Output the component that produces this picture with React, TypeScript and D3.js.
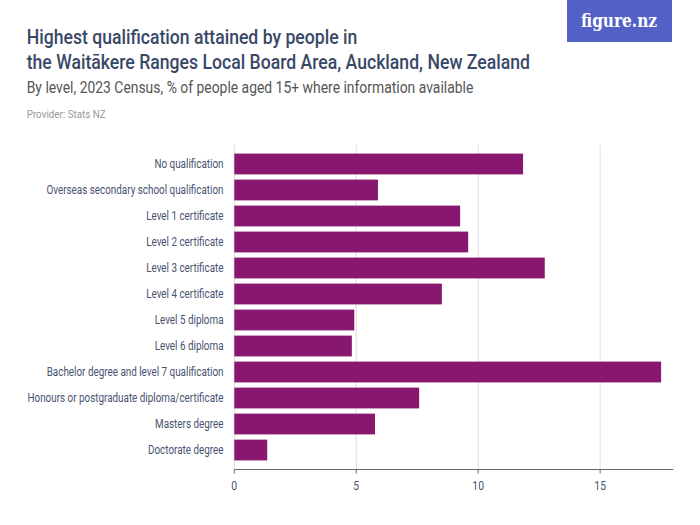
import React from "react";
import * as d3 from "d3";

const categories = [
  "No qualification",
  "Overseas secondary school qualification",
  "Level 1 certificate",
  "Level 2 certificate",
  "Level 3 certificate",
  "Level 4 certificate",
  "Level 5 diploma",
  "Level 6 diploma",
  "Bachelor degree and level 7 qualification",
  "Honours or postgraduate diploma/certificate",
  "Masters degree",
  "Doctorate degree",
];
const values = [11.84, 5.89, 9.26, 9.59, 12.73, 8.51, 4.92, 4.82, 17.5, 7.58, 5.77, 1.35];
const xTicks = [0, 5, 10, 15];

const titleLines = [
  "Highest qualification attained by people in",
  "the Waitākere Ranges Local Board Area, Auckland, New Zealand",
];
const subtitle = "By level, 2023 Census, % of people aged 15+ where information available";
const provider = "Provider: Stats NZ";

const FONT = "Roboto, 'Liberation Sans', sans-serif";
const SQ = 0.76;
const SQT = 0.8;

export default function App() {
  const W = 700, H = 525;
  const x = d3.scaleLinear().domain([0, 18]).range([234.3, 673.3]);
  const y = d3.scaleBand<string>().domain(categories).range([145, 469]).paddingInner(0.2).paddingOuter(0.33);
  const axisY = 469.5;
  const titleW = [330.6, 503.3];
  return (
    <svg width={W} height={H} style={{ position: "absolute", left: 0, top: 0 }}>
      <rect width={W} height={H} fill="#fff" />
      <rect x={567} y={0} width={105} height={42} fill="#5361c6" />
      <text x={619} y={27} textAnchor="middle" fill="#fff" fontFamily="'DejaVu Serif', 'Liberation Serif', serif" fontSize={19} fontWeight="bold" textLength={76} lengthAdjust="spacingAndGlyphs">figure.nz</text>
      {titleLines.map((t, i) => (
        <text key={i} x={26.7} y={44 + i * 25} fill="#3a4867" fontFamily={FONT} fontSize={21} fontWeight={500} textLength={titleW[i]} lengthAdjust="spacingAndGlyphs">{t}</text>
      ))}
      <text x={26.7} y={93.3} fill="#555" fontFamily={FONT} fontSize={17} textLength={446.6} lengthAdjust="spacingAndGlyphs">{subtitle}</text>
      <text x={26.7} y={117.5} fill="#999" fontFamily={FONT} fontSize={11} textLength={79} lengthAdjust="spacingAndGlyphs">{provider}</text>
      {xTicks.map((t) => (
        <line key={t} x1={x(t)} x2={x(t)} y1={145} y2={axisY} stroke="#dcdcdc" strokeWidth={1} />
      ))}
      {categories.map((c, i) => (
        <g key={c}>
          <rect x={x(0)} y={y(c)} width={x(values[i]) - x(0)} height={y.bandwidth()} fill="#88186f" />
          <g transform={`translate(223.5,${(y(c) as number) + y.bandwidth() / 2 - 1}) scale(${SQ},1)`}>
            <text x={0} y={0} dy="0.35em" textAnchor="end" fill="#475270" fontFamily={FONT} fontSize={13}>{c}</text>
          </g>
        </g>
      ))}
      <line x1={x(0)} x2={673.3} y1={axisY} y2={axisY} stroke="#666" strokeWidth={1} />
      {xTicks.map((t) => (
        <g key={t}>
          <line x1={x(t)} x2={x(t)} y1={axisY} y2={axisY + 4} stroke="#666" />
          <g transform={`translate(${x(t)},${490}) scale(${SQT},1)`}>
            <text x={0} y={0} textAnchor="middle" fill="#475270" fontFamily={FONT} fontSize={13}>{t}</text>
          </g>
        </g>
      ))}
    </svg>
  );
}
